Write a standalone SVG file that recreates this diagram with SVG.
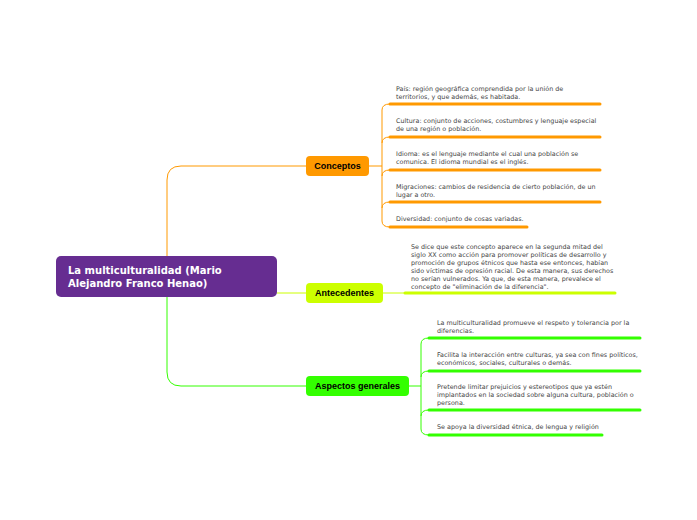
<svg xmlns="http://www.w3.org/2000/svg" width="697" height="520" viewBox="0 0 697 520">
<style>
text{font-family:"Liberation Sans",Arial,sans-serif}
.t{font-size:6.4px;fill:#444;font-family:"DejaVu Sans",Verdana,sans-serif}
.r{font-size:10px;font-weight:bold;fill:#fff;font-family:"DejaVu Sans",Verdana,sans-serif}
.n{font-size:9px;font-weight:bold;fill:#000}
.c{fill:none;stroke-width:1}
.u{fill:none;stroke-width:3;stroke-linecap:round}
.o{stroke:#ff9900}.l{stroke:#ccff00}.g{stroke:#33ff00}
</style>
<rect width="697" height="520" fill="#fff"/>
<g id="connectors">
<path class="c o" d="M167,256 V180 Q167,166 181,166 H306"/>
<path class="c g" d="M167,297 V372 Q167,386 181,386 H306"/>
<path class="c l" d="M277,293 H306"/>
<path class="c o" d="M369,166 H382 M382,110 Q382,104 390,104 M382,110 V221 Q382,227 390,227 M382,143 Q382,137 390,137 M382,176 Q382,170 390,170 M382,208 Q382,202 390,202"/>
<path class="c l" d="M383,293 H405"/>
<path class="c g" d="M409,386 H421 M421,344 Q421,338 429,338 M421,344 V429 Q421,435 429,435 M421,377 Q421,371 429,371 M421,416 Q421,410 429,410"/>
</g>
<g id="root"><rect x="56" y="256" width="221" height="41" rx="5" fill="#662d91"/>
<text class="r" x="68" y="274">La multiculturalidad (Mario</text>
<text class="r" x="68" y="287">Alejandro Franco Henao)</text></g>
<g id="conceptos"><rect x="306" y="156" width="63" height="20" rx="4" fill="#ff9900"/><text class="n" x="337.5" y="169" text-anchor="middle">Conceptos</text></g>
<g id="antecedentes"><rect x="306" y="283" width="77" height="20" rx="4" fill="#ccff00"/><text class="n" x="344.5" y="296" text-anchor="middle">Antecedentes</text></g>
<g id="aspectos"><rect x="306" y="376" width="103" height="20" rx="4" fill="#33ff00"/><text class="n" x="357.5" y="389" text-anchor="middle">Aspectos generales</text></g>
<g id="pais"><path class="u o" d="M390,104 H600"/><text class="t" x="396" y="91">País: región geográfica comprendida por la unión de</text><text class="t" x="396" y="99">territorios, y que además, es habitada.</text></g>
<g id="cultura"><path class="u o" d="M390,137 H600"/><text class="t" x="396" y="123">Cultura: conjunto de acciones, costumbres y lenguaje especial</text><text class="t" x="396" y="131">de una región o población.</text></g>
<g id="idioma"><path class="u o" d="M390,170 H600"/><text class="t" x="396" y="156">Idioma: es el lenguaje mediante el cual una población se</text><text class="t" x="396" y="164">comunica. El idioma mundial es el inglés.</text></g>
<g id="migraciones"><path class="u o" d="M390,202 H600"/><text class="t" x="396" y="189">Migraciones: cambios de residencia de cierto población, de un</text><text class="t" x="396" y="197">lugar a otro.</text></g>
<g id="diversidad"><path class="u o" d="M390,227 H527"/><text class="t" x="396" y="221">Diversidad: conjunto de cosas variadas.</text></g>
<g id="ante-text"><path class="u l" d="M405,293 H615"/>
<text class="t" x="411" y="249">Se dice que este concepto aparece en la segunda mitad del</text>
<text class="t" x="411" y="257">siglo XX como acción para promover políticas de desarrollo y</text>
<text class="t" x="411" y="265">promoción de grupos étnicos que hasta ese entonces, habían</text>
<text class="t" x="411" y="273">sido víctimas de opresión racial. De esta manera, sus derechos</text>
<text class="t" x="411" y="281">no serían vulnerados. Ya que, de esta manera, prevalece el</text>
<text class="t" x="411" y="289">concepto de "eliminación de la diferencia".</text></g>
<g id="a1"><path class="u g" d="M429,338 H640"/><text class="t" x="437" y="325">La multiculturalidad promueve el respeto y tolerancia por la</text><text class="t" x="437" y="333">diferencias.</text></g>
<g id="a2"><path class="u g" d="M429,371 H640"/><text class="t" x="437" y="357">Facilita la interacción entre culturas, ya sea con fines políticos,</text><text class="t" x="437" y="365">económicos, sociales, culturales o demás.</text></g>
<g id="a3"><path class="u g" d="M429,410 H640"/><text class="t" x="437" y="389">Pretende limitar prejuicios y estereotipos que ya estén</text><text class="t" x="437" y="397">implantados en la sociedad sobre alguna cultura, población o</text><text class="t" x="437" y="405">persona.</text></g>
<g id="a4"><path class="u g" d="M429,435 H602"/><text class="t" x="437" y="429">Se apoya la diversidad  étnica, de lengua y religión</text></g>
</svg>
